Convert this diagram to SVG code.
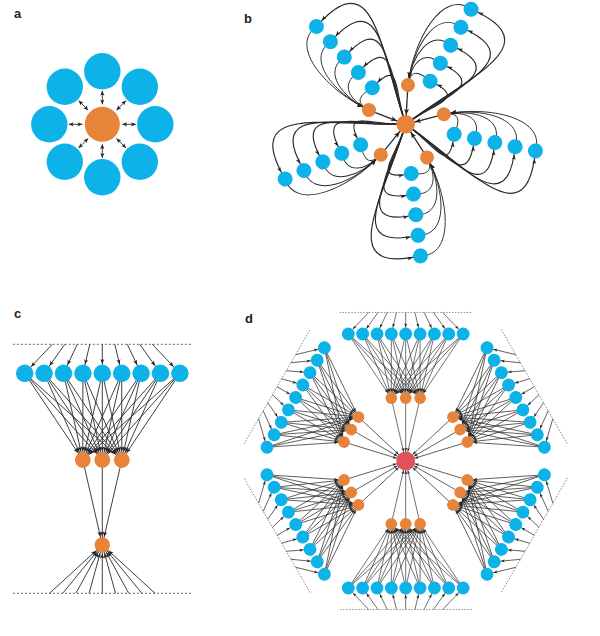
<svg xmlns="http://www.w3.org/2000/svg" width="600" height="636" viewBox="0 0 600 636">
<style>
.lbl{font-family:"Liberation Sans",Arial,sans-serif;font-weight:bold;font-size:13px;fill:#222}
.bl{fill:#0db2e8}
.or{fill:#e8833a}
.rd{fill:#e2505a}
.e{fill:none;stroke:#2a2a2a;stroke-width:0.9}
.eh{fill:none;stroke:#2a2a2a;stroke-width:1.15}
.eb{fill:none;stroke:#2a2a2a;stroke-width:1.3}
.dash{stroke:#444;stroke-width:0.8;stroke-dasharray:2 2;fill:none}
.ah{fill:#222}
</style>
<defs>
<marker id="mA" markerUnits="userSpaceOnUse" orient="auto-start-reverse" overflow="visible" markerWidth="1" markerHeight="1" refX="0" refY="0"><path class="ah" d="M-4.8,-2.1 L0,0 L-4.8,2.1 L-3.6,0 z"/></marker>
<marker id="mB8" markerUnits="userSpaceOnUse" orient="auto" overflow="visible" markerWidth="1" markerHeight="1" refX="8" refY="0"><path class="ah" d="M-5,-1.9 L0,0 L-5,1.9 L-3.8,0 z"/></marker>
<marker id="mB7" markerUnits="userSpaceOnUse" orient="auto" overflow="visible" markerWidth="1" markerHeight="1" refX="7.5" refY="0"><path class="ah" d="M-5,-1.9 L0,0 L-5,1.9 L-3.8,0 z"/></marker>
<marker id="mB9" markerUnits="userSpaceOnUse" orient="auto" overflow="visible" markerWidth="1" markerHeight="1" refX="9.5" refY="0"><path class="ah" d="M-6,-2.5 L0,0 L-6,2.5 L-4.5,0 z"/></marker>
<marker id="mCB" markerUnits="userSpaceOnUse" orient="auto" overflow="visible" markerWidth="1" markerHeight="1" refX="9.2" refY="0"><path class="ah" d="M-5,-2 L0,0 L-5,2 L-3.8,0 z"/></marker>
<marker id="mCO" markerUnits="userSpaceOnUse" orient="auto" overflow="visible" markerWidth="1" markerHeight="1" refX="8.4" refY="0"><path class="ah" d="M-5,-2 L0,0 L-5,2 L-3.8,0 z"/></marker>
<marker id="mDR" markerUnits="userSpaceOnUse" orient="auto" overflow="visible" markerWidth="1" markerHeight="1" refX="13" refY="0"><path class="ah" d="M-5,-2 L0,0 L-5,2 L-3.8,0 z"/></marker>

<g id="petalE">
  <g class="eh" marker-end="url(#mB8)">
    <path d="M0,0 C34,14.5 53,42.2 49.5,0"/>
    <path d="M0,0 C45,19.5 75.1,53.6 70.2,0"/>
    <path d="M0,0 C55,23.5 97.4,65.1 91,0"/>
    <path d="M0,0 C64,27.5 119.5,76.4 111.7,0"/>
    <path d="M0,0 C73.6,31.5 141.7,87.8 132.4,0"/>
  </g>
  <g class="e" marker-end="url(#mB7)">
    <path d="M49.5,0 C53.5,-18 48.3,-22 35.3,-17.5"/>
    <path d="M70.2,0 C74.2,-22.1 55.6,-25.3 35.3,-17.5"/>
    <path d="M91,0 C95,-26.3 62.8,-28.6 35.3,-17.5"/>
    <path d="M111.7,0 C115.7,-30.4 70,-32 35.3,-17.5"/>
    <path d="M132.4,0 C136.4,-34.6 77.3,-35.3 35.3,-17.5"/>
  </g>
  <line class="eb" x1="35.3" y1="-17.5" x2="0" y2="0" marker-end="url(#mB9)"/>
</g>
<g id="petalN">
  <circle class="or" cx="35.3" cy="-17.5" r="7"/>
  <circle class="bl" cx="49.5" cy="0" r="7.5"/>
  <circle class="bl" cx="70.2" cy="0" r="7.5"/>
  <circle class="bl" cx="91" cy="0" r="7.5"/>
  <circle class="bl" cx="111.7" cy="0" r="7.5"/>
  <circle class="bl" cx="132.4" cy="0" r="7.5"/>
</g>

<g id="modE">
  <line class="dash" x1="-89.5" y1="-200.7" x2="89.5" y2="-200.7"/>
  <g class="e" marker-end="url(#mCB)">
    <line x1="-50" y1="-200.7" x2="-77.6" y2="-171.7"/>
    <line x1="-37.5" y1="-200.7" x2="-58.2" y2="-171.7"/>
    <line x1="-25" y1="-200.7" x2="-38.8" y2="-171.7"/>
    <line x1="-12.5" y1="-200.7" x2="-19.4" y2="-171.7"/>
    <line x1="0" y1="-200.7" x2="0" y2="-171.7"/>
    <line x1="12.5" y1="-200.7" x2="19.4" y2="-171.7"/>
    <line x1="25" y1="-200.7" x2="38.8" y2="-171.7"/>
    <line x1="37.5" y1="-200.7" x2="58.2" y2="-171.7"/>
    <line x1="50" y1="-200.7" x2="77.6" y2="-171.7"/>
  </g>
  <g class="e" marker-end="url(#mCO)">
    <line x1="-77.6" y1="-171.7" x2="-19.5" y2="-85"/>
    <line x1="-77.6" y1="-171.7" x2="0" y2="-85"/>
    <line x1="-77.6" y1="-171.7" x2="19.5" y2="-85"/>
    <line x1="-58.2" y1="-171.7" x2="-19.5" y2="-85"/>
    <line x1="-58.2" y1="-171.7" x2="0" y2="-85"/>
    <line x1="-58.2" y1="-171.7" x2="19.5" y2="-85"/>
    <line x1="-38.8" y1="-171.7" x2="-19.5" y2="-85"/>
    <line x1="-38.8" y1="-171.7" x2="0" y2="-85"/>
    <line x1="-38.8" y1="-171.7" x2="19.5" y2="-85"/>
    <line x1="-19.4" y1="-171.7" x2="-19.5" y2="-85"/>
    <line x1="-19.4" y1="-171.7" x2="0" y2="-85"/>
    <line x1="-19.4" y1="-171.7" x2="19.5" y2="-85"/>
    <line x1="0" y1="-171.7" x2="-19.5" y2="-85"/>
    <line x1="0" y1="-171.7" x2="0" y2="-85"/>
    <line x1="0" y1="-171.7" x2="19.5" y2="-85"/>
    <line x1="19.4" y1="-171.7" x2="-19.5" y2="-85"/>
    <line x1="19.4" y1="-171.7" x2="0" y2="-85"/>
    <line x1="19.4" y1="-171.7" x2="19.5" y2="-85"/>
    <line x1="38.8" y1="-171.7" x2="-19.5" y2="-85"/>
    <line x1="38.8" y1="-171.7" x2="0" y2="-85"/>
    <line x1="38.8" y1="-171.7" x2="19.5" y2="-85"/>
    <line x1="58.2" y1="-171.7" x2="-19.5" y2="-85"/>
    <line x1="58.2" y1="-171.7" x2="0" y2="-85"/>
    <line x1="58.2" y1="-171.7" x2="19.5" y2="-85"/>
    <line x1="77.6" y1="-171.7" x2="-19.5" y2="-85"/>
    <line x1="77.6" y1="-171.7" x2="0" y2="-85"/>
    <line x1="77.6" y1="-171.7" x2="19.5" y2="-85"/>
  </g>
</g>
<g id="modN">
  <circle class="bl" cx="-77.6" cy="-171.7" r="8.7"/>
  <circle class="bl" cx="-58.2" cy="-171.7" r="8.7"/>
  <circle class="bl" cx="-38.8" cy="-171.7" r="8.7"/>
  <circle class="bl" cx="-19.4" cy="-171.7" r="8.7"/>
  <circle class="bl" cx="0" cy="-171.7" r="8.7"/>
  <circle class="bl" cx="19.4" cy="-171.7" r="8.7"/>
  <circle class="bl" cx="38.8" cy="-171.7" r="8.7"/>
  <circle class="bl" cx="58.2" cy="-171.7" r="8.7"/>
  <circle class="bl" cx="77.6" cy="-171.7" r="8.7"/>
  <circle class="or" cx="-19.5" cy="-85" r="7.9"/>
  <circle class="or" cx="0" cy="-85" r="7.9"/>
  <circle class="or" cx="19.5" cy="-85" r="7.9"/>
</g>
<g id="spokeC" class="e" marker-end="url(#mCO)">
  <line x1="-19.5" y1="-85" x2="0" y2="0"/>
  <line x1="0" y1="-85" x2="0" y2="0"/>
  <line x1="19.5" y1="-85" x2="0" y2="0"/>
</g>
<g id="spokeD" class="e" marker-end="url(#mDR)">
  <line x1="-19.5" y1="-85" x2="0" y2="0"/>
  <line x1="0" y1="-85" x2="0" y2="0"/>
  <line x1="19.5" y1="-85" x2="0" y2="0"/>
</g>
</defs>

<rect width="600" height="636" fill="#fff"/>

<!-- labels -->
<text class="lbl" x="14" y="18">a</text>
<text class="lbl" x="244" y="23">b</text>
<text class="lbl" x="14" y="318">c</text>
<text class="lbl" x="245" y="323">d</text>

<!-- ===== Panel a ===== -->
<g id="a-connectors" class="e" marker-start="url(#mA)" marker-end="url(#mA)">
  <line x1="122.3" y1="124.3" x2="135.8" y2="124.3"/>
  <line x1="116.44" y1="138.44" x2="125.99" y2="147.99"/>
  <line x1="102.3" y1="144.3" x2="102.3" y2="157.8"/>
  <line x1="88.16" y1="138.44" x2="78.61" y2="147.99"/>
  <line x1="82.3" y1="124.3" x2="68.8" y2="124.3"/>
  <line x1="88.16" y1="110.16" x2="78.61" y2="100.61"/>
  <line x1="102.3" y1="104.3" x2="102.3" y2="90.8"/>
  <line x1="116.44" y1="110.16" x2="125.99" y2="100.61"/>
</g>
<g id="a-hub"><circle class="or" cx="102.3" cy="124.3" r="17.5"/></g>
<g id="a-n1"><circle class="bl" cx="155.3" cy="124.3" r="18.2"/></g>
<g id="a-n2"><circle class="bl" cx="139.8" cy="161.8" r="18.2"/></g>
<g id="a-n3"><circle class="bl" cx="102.3" cy="177.3" r="18.2"/></g>
<g id="a-n4"><circle class="bl" cx="64.8" cy="161.8" r="18.2"/></g>
<g id="a-n5"><circle class="bl" cx="49.3" cy="124.3" r="18.2"/></g>
<g id="a-n6"><circle class="bl" cx="64.8" cy="86.8" r="18.2"/></g>
<g id="a-n7"><circle class="bl" cx="102.3" cy="71.3" r="18.2"/></g>
<g id="a-n8"><circle class="bl" cx="139.8" cy="86.8" r="18.2"/></g>

<!-- ===== Panel b ===== -->
<g id="b-connectors">
  <use href="#petalE" transform="translate(405.7,124.3) rotate(-132.4)"/>
  <use href="#petalE" transform="translate(405.7,124.3) rotate(-60.4)"/>
  <use href="#petalE" transform="translate(405.7,124.3) rotate(11.6)"/>
  <use href="#petalE" transform="translate(405.7,124.3) rotate(83.6)"/>
  <use href="#petalE" transform="translate(405.7,124.3) rotate(155.6)"/>
</g>
<use id="b-petal-1" href="#petalN" transform="translate(405.7,124.3) rotate(-132.4)"/>
<use id="b-petal-2" href="#petalN" transform="translate(405.7,124.3) rotate(-60.4)"/>
<use id="b-petal-3" href="#petalN" transform="translate(405.7,124.3) rotate(11.6)"/>
<use id="b-petal-4" href="#petalN" transform="translate(405.7,124.3) rotate(83.6)"/>
<use id="b-petal-5" href="#petalN" transform="translate(405.7,124.3) rotate(155.6)"/>
<g id="b-hub"><circle class="or" cx="405.7" cy="124.3" r="9.2"/></g>

<!-- ===== Panel c ===== -->
<g id="c-connectors">
  <use href="#modE" transform="translate(102.3,545)"/>
  <use href="#spokeC" transform="translate(102.3,545)"/>
  <line class="dash" x1="13" y1="593.3" x2="192" y2="593.3"/>
  <g class="e" marker-end="url(#mCO)">
    <line x1="49.5" y1="593.3" x2="102.3" y2="545"/>
    <line x1="62.7" y1="593.3" x2="102.3" y2="545"/>
    <line x1="75.9" y1="593.3" x2="102.3" y2="545"/>
    <line x1="89.1" y1="593.3" x2="102.3" y2="545"/>
    <line x1="102.3" y1="593.3" x2="102.3" y2="545"/>
    <line x1="115.5" y1="593.3" x2="102.3" y2="545"/>
    <line x1="128.7" y1="593.3" x2="102.3" y2="545"/>
    <line x1="141.9" y1="593.3" x2="102.3" y2="545"/>
    <line x1="155.1" y1="593.3" x2="102.3" y2="545"/>
  </g>
</g>
<use id="c-module" href="#modN" transform="translate(102.3,545)"/>
<g id="c-out"><circle class="or" cx="102.3" cy="545" r="7.7"/></g>

<!-- ===== Panel d ===== -->
<g id="d-connectors">
  <use href="#modE" transform="translate(405.7,461) rotate(0) scale(0.74)"/>
  <use href="#modE" transform="translate(405.7,461) rotate(60) scale(0.74)"/>
  <use href="#modE" transform="translate(405.7,461) rotate(120) scale(0.74)"/>
  <use href="#modE" transform="translate(405.7,461) rotate(180) scale(0.74)"/>
  <use href="#modE" transform="translate(405.7,461) rotate(240) scale(0.74)"/>
  <use href="#modE" transform="translate(405.7,461) rotate(300) scale(0.74)"/>
  <use href="#spokeD" transform="translate(405.7,461) rotate(0) scale(0.74)"/>
  <use href="#spokeD" transform="translate(405.7,461) rotate(60) scale(0.74)"/>
  <use href="#spokeD" transform="translate(405.7,461) rotate(120) scale(0.74)"/>
  <use href="#spokeD" transform="translate(405.7,461) rotate(180) scale(0.74)"/>
  <use href="#spokeD" transform="translate(405.7,461) rotate(240) scale(0.74)"/>
  <use href="#spokeD" transform="translate(405.7,461) rotate(300) scale(0.74)"/>
</g>
<use id="d-module-1" href="#modN" transform="translate(405.7,461) rotate(0) scale(0.74)"/>
<use id="d-module-2" href="#modN" transform="translate(405.7,461) rotate(60) scale(0.74)"/>
<use id="d-module-3" href="#modN" transform="translate(405.7,461) rotate(120) scale(0.74)"/>
<use id="d-module-4" href="#modN" transform="translate(405.7,461) rotate(180) scale(0.74)"/>
<use id="d-module-5" href="#modN" transform="translate(405.7,461) rotate(240) scale(0.74)"/>
<use id="d-module-6" href="#modN" transform="translate(405.7,461) rotate(300) scale(0.74)"/>
<g id="d-hub"><circle class="rd" cx="405.7" cy="461" r="9.4"/></g>
</svg>
